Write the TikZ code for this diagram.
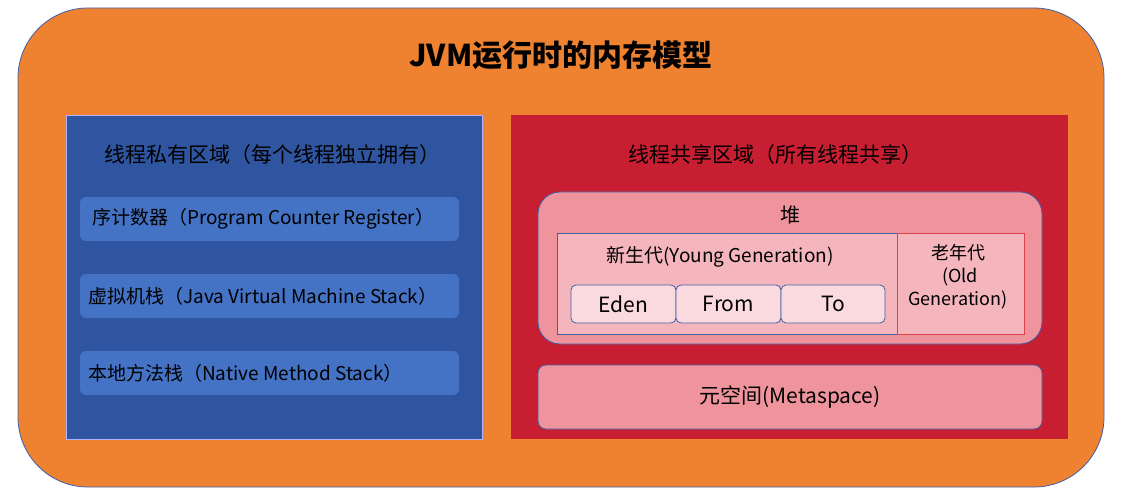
\documentclass[tikz,border=0pt]{standalone}
\usepackage{fontspec}
\setmainfont{Noto Sans CJK SC}
\begin{document}
\begin{tikzpicture}[x=1pt,y=-1pt,
  box/.style={draw=#1,line width=0.8pt},
  txt/.style={font=\fontsize{19}{22}\selectfont,text=black,inner sep=0pt},
  sub/.style={fill=blue5,rounded corners=6pt},
  cell/.style={draw=boxblue,line width=0.8pt,fill=cellpink,rounded corners=5pt}]
\definecolor{orange1}{HTML}{EE8230}
\definecolor{blue1}{HTML}{2F55A0}
\definecolor{blue5}{HTML}{4472C4}
\definecolor{red1}{HTML}{C81E32}
\definecolor{pink1}{HTML}{EF949D}
\definecolor{pink2}{HTML}{F4B5BD}
\definecolor{cellpink}{HTML}{FADADF}
\definecolor{boxblue}{HTML}{3F5FA8}
\definecolor{oldred}{HTML}{E04050}
\useasboundingbox (0,0) rectangle (1122,497);
\fill[white] (0,0) rectangle (1122,497);
\path[fill=orange1,draw=boxblue,line width=0.8pt,rounded corners=70pt] (18,8) rectangle (1104,487);
\node[font=\fontsize{30}{34}\selectfont\bfseries,inner sep=0pt] (title) at (561,55) {JVM运行时的内存模型};
% left
\path[fill=blue1,draw=blue!30,line width=0.6pt] (66,115) rectangle (482,439);
\node[txt,font=\fontsize{21}{24}\selectfont] (ltitle) at (272,155) {线程私有区域（每个线程独立拥有）};
\path[sub] (80,197) rectangle (459,241);
\node[txt,anchor=west] (pc) at (92,219) {序计数器（Program Counter Register）};
\path[sub] (80,274) rectangle (459,318);
\node[txt,anchor=west] (jvms) at (88,296) {虚拟机栈（Java Virtual Machine Stack）};
\path[sub] (80,351) rectangle (459,395);
\node[txt,anchor=west] (nms) at (88,373) {本地方法栈（Native Method Stack）};
% right
\path[fill=red1] (511,115) rectangle (1068,439);
\node[txt,font=\fontsize{21}{24}\selectfont] (rtitle) at (775,155) {线程共享区域（所有线程共享）};
\path[fill=pink1,draw=boxblue,line width=0.8pt,rounded corners=22pt] (538,192) rectangle (1042,344);
\node[txt,font=\fontsize{20}{24}\selectfont] (heap) at (790,215) {堆};
\path[fill=pink2,draw=boxblue,line width=0.8pt] (557,233) rectangle (897,334);
\path[fill=pink2,draw=oldred,line width=0.8pt] (897,233) rectangle (1024,334);
\node[txt] (young) at (720,257) {新生代(Young Generation)};
\node[txt,align=center,font=\fontsize{18}{23}\selectfont] (old) at (958,277) {老年代\\\hspace*{4pt}(Old\\Generation)};
\path[cell] (571,285) rectangle (676,323);
\path[cell] (676,285) rectangle (781,323);
\path[cell] (781,285) rectangle (885,323);
\node[txt,font=\fontsize{21}{24}\selectfont] (eden) at (623.5,304) {Eden};
\node[txt,font=\fontsize{21}{24}\selectfont] (from) at (728.5,304) {From};
\node[txt,font=\fontsize{21}{24}\selectfont] (to) at (833,304) {To};
\path[fill=pink1,draw=boxblue,line width=0.8pt,rounded corners=8pt] (538,365) rectangle (1042,429);
\node[txt,font=\fontsize{21}{24}\selectfont] (meta) at (790,397) {元空间(Metaspace)};
\end{tikzpicture}
\end{document}
